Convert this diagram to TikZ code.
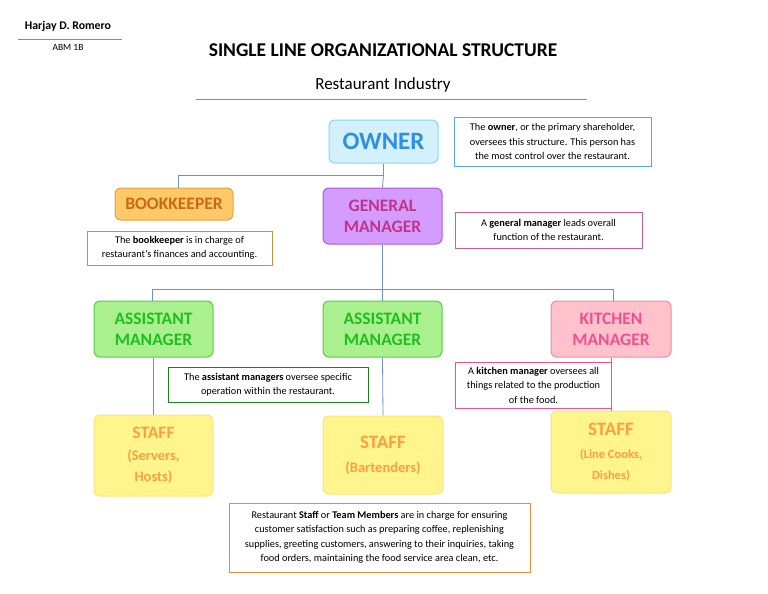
\documentclass[tikz,border=0pt]{standalone}
\usepackage{fontspec}
\setmainfont{Carlito}
\begin{document}
\begin{tikzpicture}[x=1pt,y=-1pt,
  box/.style={rounded corners=6pt,line width=1pt,align=center,font=\bfseries\fontsize{17.5}{21}\selectfont,inner sep=0pt},
  note/.style={draw,line width=0.8pt,align=center,font=\fontsize{10.3}{14.5}\selectfont,inner sep=0pt},
  link/.style={draw=lnC,line width=0.8pt}]
\useasboundingbox (0,0) rectangle (768,594);
\definecolor{owF}{HTML}{D2F1FC}\definecolor{owD}{HTML}{86D6F2}\definecolor{owT}{HTML}{2F8FE3}
\definecolor{bkF}{HTML}{FFC868}\definecolor{bkD}{HTML}{E6A044}\definecolor{bkT}{HTML}{CC6A10}
\definecolor{gmF}{HTML}{D49CFE}\definecolor{gmD}{HTML}{B558D6}\definecolor{gmT}{HTML}{C0358A}
\definecolor{amF}{HTML}{AAF08E}\definecolor{amD}{HTML}{52CF42}\definecolor{amT}{HTML}{1EBF1E}
\definecolor{kmF}{HTML}{FFC2CC}\definecolor{kmD}{HTML}{F08A9A}\definecolor{kmT}{HTML}{F0508E}
\definecolor{stF}{HTML}{FFF58C}\definecolor{stD}{HTML}{FCE27A}\definecolor{stT}{HTML}{FF9E40}
\definecolor{lnC}{HTML}{6F8FCF}
% header
\node (name) at (68,26) {\bfseries\fontsize{11.8}{13}\selectfont Harjay D. Romero};
\coordinate (nl1) at (18,39); \coordinate (nl2) at (122,39);
\draw[lnC,line width=0.8pt] (nl1) -- (nl2);
\node (abm) at (68,47) {\fontsize{9.5}{11}\selectfont ABM 1B};
\node (title) at (383,50) {\bfseries\fontsize{19.5}{22}\selectfont SINGLE LINE ORGANIZATIONAL STRUCTURE};
\node (sub) at (383,85) {\fontsize{17}{19}\selectfont Restaurant Industry};
\coordinate (sl1) at (196,99); \coordinate (sl2) at (587,99);
\draw[lnC,line width=0.8pt] (sl1) -- (sl2);
% connectors
\coordinate (j1) at (383.5,175); \coordinate (j2) at (178,175);
\coordinate (j3) at (382.5,289); \coordinate (j4) at (152,289); \coordinate (j5) at (613,289);
% boxes
\node[box,fill=owF,draw=owD,text=owT,minimum width=109,minimum height=43,font=\bfseries\fontsize{25}{28}\selectfont] (own) at (383.5,141.5) {OWNER};
\node[box,fill=bkF,draw=bkD,text=bkT,minimum width=118,minimum height=32] (bk) at (174,204) {BOOKKEEPER};
\node[box,fill=gmF,draw=gmD,text=gmT,minimum width=119,minimum height=56] (gm) at (382.5,216) {GENERAL\\MANAGER};
\node[box,fill=amF,draw=amD,text=amT,minimum width=119,minimum height=56] (am1) at (153.5,329) {ASSISTANT\\MANAGER};
\node[box,fill=amF,draw=amD,text=amT,minimum width=119,minimum height=56] (am2) at (382.5,329) {ASSISTANT\\MANAGER};
\node[box,fill=kmF,draw=kmD,text=kmT,minimum width=120,minimum height=56] (km) at (611,329) {KITCHEN\\MANAGER};
\node[box,fill=stF,draw=stD,text=stT,minimum width=119,minimum height=81] (st1) at (153.5,455.5) {STAFF\\[1pt]{\fontsize{14.5}{21}\selectfont (Servers,}\\{\fontsize{14.5}{19}\selectfont Hosts)}};
\node[box,fill=stF,draw=stD,text=stT,minimum width=120,minimum height=78] (st2) at (383,455) {{\fontsize{19}{22}\selectfont STAFF}\\[3pt]{\fontsize{14.5}{17}\selectfont (Bartenders)}};
\node[box,fill=stF,draw=stD,text=stT,minimum width=120,minimum height=82] (st3) at (611,452) {{\fontsize{19}{22}\selectfont STAFF}\\[2pt]{\fontsize{12.5}{16}\selectfont (Line Cooks,}\\{\fontsize{12.5}{16}\selectfont Dishes)}};
\draw[link] (own.south) -- (j1) -- (j2) -- (j2|-bk.north);
\draw[link] (j1) -- (gm.north);
\draw[link] (gm.south) -- (j3);
\draw[link] (j4) -- (j5);
\draw[link] (j4) -- (j4|-am1.north);
\draw[link] (j3) -- (am2.north);
\draw[link] (j5) -- (j5|-km.north);
\draw[link] (am1.south) -- (st1.north);
\draw[link] (am2.south) -- (st2.north);
\draw[link] (km.south) -- (st3.north);
% notes
\node[note,draw=owT!80,fill=white,minimum width=197,minimum height=49] (n1) at (552.5,141.5) {The \textbf{owner}, or the primary shareholder,\\oversees this structure. This person has\\the most control over the restaurant.};
\node[note,draw=bkD!90!black,fill=white,minimum width=185,minimum height=34] (n2) at (179.5,248) {The \textbf{bookkeeper} is in charge of\\restaurant's finances and accounting.};
\node[note,draw=gmT!80,fill=white,minimum width=187,minimum height=36] (n3) at (548.5,230) {A \textbf{general manager} leads overall\\function of the restaurant.};
\node[note,draw=amT!70!black,fill=white,minimum width=200,minimum height=35] (n4) at (268,384.5) {The \textbf{assistant managers} oversee specific\\operation within the restaurant.};
\node[note,draw=kmT,fill=white,minimum width=156,minimum height=46] (n5) at (533.5,385) {A \textbf{kitchen manager} oversees all\\things related to the production\\of the food.};
\node[note,draw=stT!90!black,fill=white,minimum width=301,minimum height=69] (n6) at (379.5,537.5) {Restaurant \textbf{Staff} or \textbf{Team Members} are in charge for ensuring\\customer satisfaction such as preparing coffee, replenishing\\supplies, greeting customers, answering to their inquiries, taking\\food orders, maintaining the food service area clean, etc.};
\end{tikzpicture}
\end{document}
